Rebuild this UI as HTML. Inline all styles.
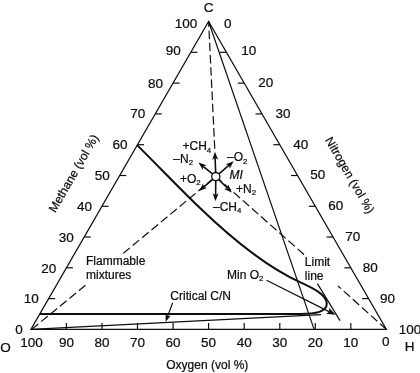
<!DOCTYPE html><html><head><meta charset="utf-8"><title>Flammability diagram</title><style>html,body{margin:0;padding:0;background:#fff}svg{display:block}text{font-family:"Liberation Sans",sans-serif;font-size:12px;fill:#0c0c0c;stroke:#0c0c0c;stroke-width:0.22px}text.t{font-size:13.5px}</style></head><body>
<svg width="420" height="373" viewBox="0 0 420 373">
<rect width="420" height="373" fill="#fff"/>
<g stroke="#0e0e0e" stroke-width="1.2" fill="none" stroke-linecap="butt">
<path d="M30.9 329.4L208.6 21.5L386.4 329.4Z"/>
<path d="M48.7 298.6h6.5"/>
<path d="M226.4 52.3h-6.5"/>
<path d="M350.8 329.4v-6.5"/>
<path d="M66.4 267.8h6.5"/>
<path d="M244.2 83.1h-6.5"/>
<path d="M315.3 329.4v-6.5"/>
<path d="M84.2 237.0h6.5"/>
<path d="M262.0 113.9h-6.5"/>
<path d="M279.8 329.4v-6.5"/>
<path d="M102.0 206.3h6.5"/>
<path d="M279.8 144.7h-6.5"/>
<path d="M244.2 329.4v-6.5"/>
<path d="M119.8 175.5h6.5"/>
<path d="M297.5 175.5h-6.5"/>
<path d="M208.6 329.4v-6.5"/>
<path d="M137.5 144.7h6.5"/>
<path d="M315.3 206.3h-6.5"/>
<path d="M173.1 329.4v-6.5"/>
<path d="M155.3 113.9h6.5"/>
<path d="M333.1 237.0h-6.5"/>
<path d="M137.5 329.4v-6.5"/>
<path d="M173.1 83.1h6.5"/>
<path d="M350.9 267.8h-6.5"/>
<path d="M102.0 329.4v-6.5"/>
<path d="M190.9 52.3h6.5"/>
<path d="M368.6 298.6h-6.5"/>
<path d="M66.4 329.4v-6.5"/>
<path d="M208.6 21.5L314.1 329.4"/>
<path d="M214.9 151.8L208.6 21.5" stroke-dasharray="8.5 3.7" stroke-dashoffset="9.2"/>
<path d="M31.7 329.4L87.5 283.6" stroke-dasharray="8.5 3.7"/>
<path d="M123.3 253.3L215.8 176.6" stroke-dasharray="8.5 3.7"/>
<path d="M386.4 329.4L338 286" stroke-dasharray="8.5 3.7"/>
<path d="M304 254.5L215.8 176.6" stroke-dasharray="8.5 3.7"/>
<path d="M30.9 329.4L321 314.6"/>
<path d="M317.4 283.6L340 320.6"/>
<path d="M266.5 280.3L331 312.6"/>
<path d="M172.7 302.6L166.6 319"/>
</g>
<path d="M215.8 176.6L215.1 157.8" stroke="#0e0e0e" stroke-width="1.6" fill="none"/><path d="M214.9 151.8L218.2 159.7L215.1 157.8L212.2 159.9Z" fill="#0e0e0e"/>
<path d="M215.8 176.6L215.6 195.2" stroke="#0e0e0e" stroke-width="1.6" fill="none"/><path d="M215.5 201.2L212.6 193.2L215.6 195.2L218.6 193.2Z" fill="#0e0e0e"/>
<path d="M215.8 176.6L229.1 165.2" stroke="#0e0e0e" stroke-width="1.6" fill="none"/><path d="M233.7 161.3L229.6 168.8L229.1 165.2L225.7 164.2Z" fill="#0e0e0e"/>
<path d="M215.8 176.6L203.6 187.1" stroke="#0e0e0e" stroke-width="1.6" fill="none"/><path d="M199.0 191.0L203.1 183.5L203.6 187.1L207.0 188.1Z" fill="#0e0e0e"/>
<path d="M215.8 176.6L227.5 188.2" stroke="#0e0e0e" stroke-width="1.6" fill="none"/><path d="M231.8 192.4L224.0 188.9L227.5 188.2L228.2 184.6Z" fill="#0e0e0e"/>
<path d="M215.8 176.6L203.2 166.3" stroke="#0e0e0e" stroke-width="1.6" fill="none"/><path d="M198.5 162.5L206.6 165.2L203.2 166.3L202.8 169.9Z" fill="#0e0e0e"/>
<circle cx="215.8" cy="176.6" r="4.1" fill="#fff" stroke="#0e0e0e" stroke-width="1.3"/>
<path d="M335.6 314.8L326.0 313.8L329.3 311.7L329.1 307.7Z" fill="#0e0e0e"/>
<path d="M165.6 321.8L165.6 313.8L167.5 316.6L170.8 315.7Z" fill="#0e0e0e"/>
<path d="M137.4 145.4 C165 173,185 194,200 208 C234.3 241,269.3 268.3,300.5 282.4 C314 288.6,326.8 295,326.8 303.6 C326.8 312,316 313.9,300 313.9 L40 313.9" stroke="#0e0e0e" stroke-width="2.05" fill="none"/>
<text class="t" x="22.7" y="334.0" text-anchor="end">0</text>
<text class="t" x="223.9" y="27.9">0</text>
<text class="t" x="385.7" y="346.4" text-anchor="middle">0</text>
<text class="t" x="38.7" y="303.0" text-anchor="end">10</text>
<text class="t" x="241.2" y="54.5">10</text>
<text class="t" x="350.8" y="346.8" text-anchor="middle">10</text>
<text class="t" x="56.4" y="272.8" text-anchor="end">20</text>
<text class="t" x="258.2" y="86.7">20</text>
<text class="t" x="315.3" y="346.8" text-anchor="middle">20</text>
<text class="t" x="73.7" y="241.9" text-anchor="end">30</text>
<text class="t" x="275.6" y="117.6">30</text>
<text class="t" x="279.8" y="346.8" text-anchor="middle">30</text>
<text class="t" x="92.0" y="210.7" text-anchor="end">40</text>
<text class="t" x="293.2" y="149.0">40</text>
<text class="t" x="244.2" y="346.8" text-anchor="middle">40</text>
<text class="t" x="109.8" y="179.9" text-anchor="end">50</text>
<text class="t" x="310.3" y="179.4">50</text>
<text class="t" x="208.6" y="346.8" text-anchor="middle">50</text>
<text class="t" x="127.5" y="149.1" text-anchor="end">60</text>
<text class="t" x="328.3" y="210.4">60</text>
<text class="t" x="173.1" y="346.8" text-anchor="middle">60</text>
<text class="t" x="145.3" y="118.3" text-anchor="end">70</text>
<text class="t" x="345.3" y="241.1">70</text>
<text class="t" x="137.5" y="346.8" text-anchor="middle">70</text>
<text class="t" x="163.1" y="87.5" text-anchor="end">80</text>
<text class="t" x="362.8" y="272.4">80</text>
<text class="t" x="102.0" y="346.8" text-anchor="middle">80</text>
<text class="t" x="180.9" y="55.2" text-anchor="end">90</text>
<text class="t" x="380.0" y="303.2">90</text>
<text class="t" x="66.4" y="346.8" text-anchor="middle">90</text>
<text class="t" x="197.3" y="27.6" text-anchor="end">100</text>
<text class="t" x="398.8" y="334.0">100</text>
<text class="t" x="31.4" y="346.8" text-anchor="middle">100</text>
<text class="t" x="208.7" y="12.4" text-anchor="middle">C</text>
<text class="t" x="5.6" y="351.7" text-anchor="middle">O</text>
<text class="t" x="409.6" y="351" text-anchor="middle">H</text>
<text x="207.3" y="369.2" text-anchor="middle" font-size="11.7">Oxygen (vol %)</text>
<text transform="translate(55.2,213.2) rotate(-60)">Methane (vol %)</text>
<text transform="translate(324.8,139.9) rotate(60)">Nitrogen (vol %)</text>
<text x="86" y="265">Flammable</text><text x="86" y="278.5">mixtures</text>
<text x="170.3" y="300" font-size="11.8">Critical C/N</text>
<text x="227" y="278.7">Min O<tspan font-size="7.8" dy="2.6">2</tspan></text>
<text x="304.8" y="266.4">Limit</text><text x="304.8" y="279.8">line</text>
<text x="182.5" y="150.4">+CH<tspan font-size="7.8" dy="2.6">4</tspan></text>
<text x="173.3" y="162.6">–N<tspan font-size="7.8" dy="2.6">2</tspan></text>
<text x="179.9" y="182.8">+O<tspan font-size="7.8" dy="2.6">2</tspan></text>
<text x="227.1" y="161.2">–O<tspan font-size="7.8" dy="2.6">2</tspan></text>
<text x="236" y="192.6">+N<tspan font-size="7.8" dy="2.6">2</tspan></text>
<text x="213" y="210.6">–CH<tspan font-size="7.8" dy="2.6">4</tspan></text>
<text x="229.4" y="179.1" font-style="italic">MI</text>
</svg></body></html>
